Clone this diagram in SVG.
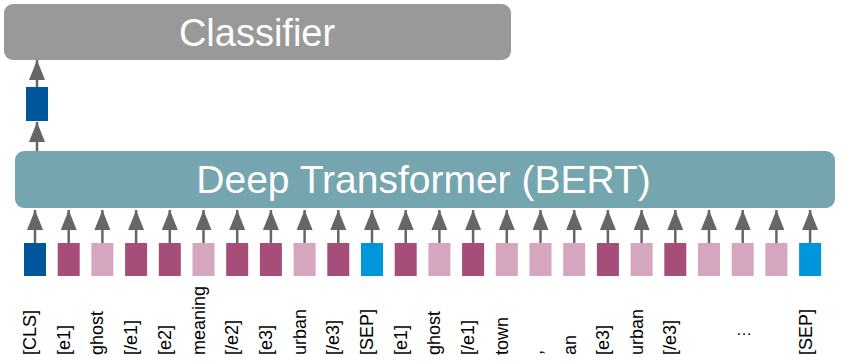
<svg xmlns="http://www.w3.org/2000/svg" width="842" height="363" viewBox="0 0 842 363">
<style>
.lbl{font-family:"Liberation Sans",Arial,sans-serif;font-size:18px;fill:#000}
.title{font-family:"Liberation Sans",Arial,sans-serif;font-size:38px;fill:#fff;text-anchor:middle}
.c{fill:#00569b}.s{fill:#0096db}.d{fill:#a64d79}.l{fill:#d5a6bd}
.ar{stroke:#666;stroke-width:2.5;fill:none;marker-end:url(#ah)}
</style>
<defs>
<marker id="ah" viewBox="0 0 20 16" refX="20" refY="8" markerWidth="20" markerHeight="16" markerUnits="userSpaceOnUse" orient="auto">
<path d="M0,0 L20,8 L0,16 z" fill="#666"/>
</marker>
</defs>
<rect width="842" height="363" fill="#fff"/>
<g id="classifier">
<rect x="4" y="4" width="507" height="56" rx="9" fill="#999"/>
<text class="title" x="257" y="46">Classifier</text>
</g>
<g id="cls-output">
<rect class="c" x="26" y="87" width="22" height="34"/>
</g>
<g id="bert">
<rect x="15" y="151" width="820" height="57" rx="9" fill="#75a5af"/>
<text class="title" x="423.5" y="193" style="font-size:39px">Deep Transformer (BERT)</text>
</g>
<g id="tokens">
<g id="t0"><rect class="c" x="24" y="243" width="22" height="33"/><text class="lbl" transform="translate(36,355) rotate(-90)">[CLS]</text></g>
<g id="t1"><rect class="d" x="57.7" y="243" width="22" height="33"/><text class="lbl" transform="translate(69.7,355) rotate(-90)">[e1]</text></g>
<g id="t2"><rect class="l" x="91.4" y="243" width="22" height="33"/><text class="lbl" transform="translate(103.4,355) rotate(-90)">ghost</text></g>
<g id="t3"><rect class="d" x="125.1" y="243" width="22" height="33"/><text class="lbl" transform="translate(137.1,355) rotate(-90)">[/e1]</text></g>
<g id="t4"><rect class="d" x="158.8" y="243" width="22" height="33"/><text class="lbl" transform="translate(170.8,355) rotate(-90)">[e2]</text></g>
<g id="t5"><rect class="l" x="192.5" y="243" width="22" height="33"/><text class="lbl" transform="translate(204.5,355) rotate(-90)">meaning</text></g>
<g id="t6"><rect class="d" x="226.2" y="243" width="22" height="33"/><text class="lbl" transform="translate(238.2,355) rotate(-90)">[/e2]</text></g>
<g id="t7"><rect class="d" x="259.9" y="243" width="22" height="33"/><text class="lbl" transform="translate(271.9,355) rotate(-90)">[e3]</text></g>
<g id="t8"><rect class="l" x="293.6" y="243" width="22" height="33"/><text class="lbl" transform="translate(305.6,355) rotate(-90)">urban</text></g>
<g id="t9"><rect class="d" x="327.3" y="243" width="22" height="33"/><text class="lbl" transform="translate(339.3,355) rotate(-90)">[/e3]</text></g>
<g id="t10"><rect class="s" x="361" y="243" width="22" height="33"/><text class="lbl" transform="translate(373,355) rotate(-90)">[SEP]</text></g>
<g id="t11"><rect class="d" x="394.7" y="243" width="22" height="33"/><text class="lbl" transform="translate(406.7,355) rotate(-90)">[e1]</text></g>
<g id="t12"><rect class="l" x="428.4" y="243" width="22" height="33"/><text class="lbl" transform="translate(440.4,355) rotate(-90)">ghost</text></g>
<g id="t13"><rect class="d" x="462.1" y="243" width="22" height="33"/><text class="lbl" transform="translate(474.1,355) rotate(-90)">[/e1]</text></g>
<g id="t14"><rect class="l" x="495.8" y="243" width="22" height="33"/><text class="lbl" transform="translate(507.8,355) rotate(-90)">town</text></g>
<g id="t15"><rect class="l" x="529.5" y="243" width="22" height="33"/><text class="lbl" transform="translate(541.5,355) rotate(-90)">,</text></g>
<g id="t16"><rect class="l" x="563.2" y="243" width="22" height="33"/><text class="lbl" transform="translate(576.2,355) rotate(-90)">an</text></g>
<g id="t17"><rect class="d" x="596.9" y="243" width="22" height="33"/><text class="lbl" transform="translate(608.9,355) rotate(-90)">[e3]</text></g>
<g id="t18"><rect class="l" x="630.6" y="243" width="22" height="33"/><text class="lbl" transform="translate(642.6,355) rotate(-90)">urban</text></g>
<g id="t19"><rect class="d" x="664.3" y="243" width="22" height="33"/><text class="lbl" transform="translate(676.3,355) rotate(-90)">[/e3]</text></g>
<g id="t20"><rect class="l" x="698" y="243" width="22" height="33"/></g>
<g id="t21"><rect class="l" x="731.7" y="243" width="22" height="33"/><text class="lbl" x="744" y="335" text-anchor="middle" style="font-size:16px">…</text></g>
<g id="t22"><rect class="l" x="765.4" y="243" width="22" height="33"/></g>
<g id="t23"><rect class="s" x="799.1" y="243" width="22" height="33"/><text class="lbl" transform="translate(812.1,355) rotate(-90)">[SEP]</text></g>
</g>
<g id="connectors">
<line class="ar" x1="37" y1="151" x2="37" y2="122"/>
<line class="ar" x1="37" y1="87" x2="37" y2="60"/>
<line class="ar" x1="35" y1="243" x2="35" y2="210"/>
<line class="ar" x1="68.7" y1="243" x2="68.7" y2="210"/>
<line class="ar" x1="102.4" y1="243" x2="102.4" y2="210"/>
<line class="ar" x1="136.1" y1="243" x2="136.1" y2="210"/>
<line class="ar" x1="169.8" y1="243" x2="169.8" y2="210"/>
<line class="ar" x1="203.5" y1="243" x2="203.5" y2="210"/>
<line class="ar" x1="237.2" y1="243" x2="237.2" y2="210"/>
<line class="ar" x1="270.9" y1="243" x2="270.9" y2="210"/>
<line class="ar" x1="304.6" y1="243" x2="304.6" y2="210"/>
<line class="ar" x1="338.3" y1="243" x2="338.3" y2="210"/>
<line class="ar" x1="372" y1="243" x2="372" y2="210"/>
<line class="ar" x1="405.7" y1="243" x2="405.7" y2="210"/>
<line class="ar" x1="439.4" y1="243" x2="439.4" y2="210"/>
<line class="ar" x1="473.1" y1="243" x2="473.1" y2="210"/>
<line class="ar" x1="506.8" y1="243" x2="506.8" y2="210"/>
<line class="ar" x1="540.5" y1="243" x2="540.5" y2="210"/>
<line class="ar" x1="574.2" y1="243" x2="574.2" y2="210"/>
<line class="ar" x1="607.9" y1="243" x2="607.9" y2="210"/>
<line class="ar" x1="641.6" y1="243" x2="641.6" y2="210"/>
<line class="ar" x1="675.3" y1="243" x2="675.3" y2="210"/>
<line class="ar" x1="709" y1="243" x2="709" y2="210"/>
<line class="ar" x1="742.7" y1="243" x2="742.7" y2="210"/>
<line class="ar" x1="776.4" y1="243" x2="776.4" y2="210"/>
<line class="ar" x1="810.1" y1="243" x2="810.1" y2="210"/>
</g>
</svg>
